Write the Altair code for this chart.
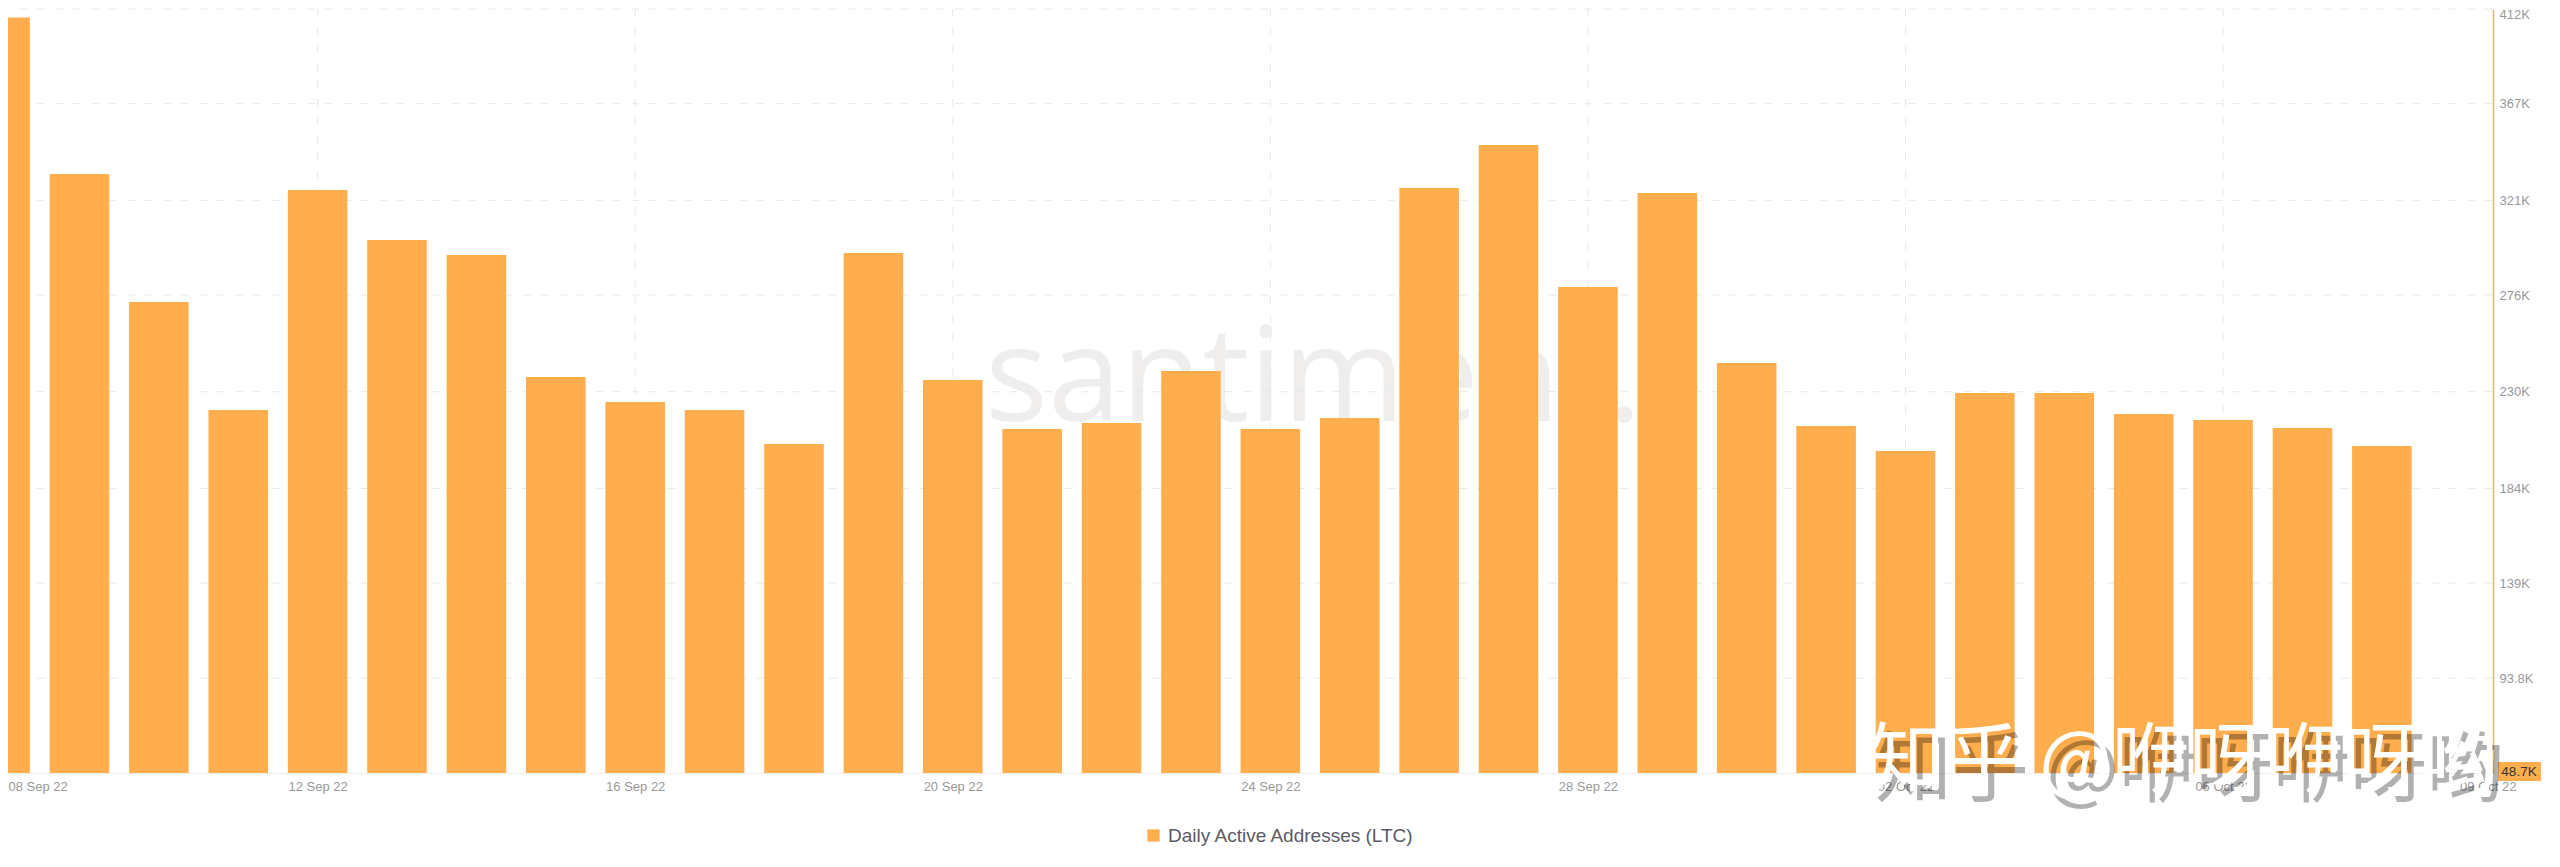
import altair as alt
import pandas as pd

# Daily active addresses in thousands, one bar a day from 08 Sep 22
values = [
    407.9, 333.5, 272.7, 221.3, 325.9, 302.2, 295.0, 237.0, 225.1, 221.3, 205.2,
    296.0, 235.6, 212.3, 215.1, 239.9, 212.3, 217.5, 326.9, 347.3, 279.8, 324.5,
    243.7, 213.7, 201.8, 229.4, 229.4, 219.4, 216.6, 212.8, 204.2,
]
y_ticks = [412, 367, 321, 276, 230, 184, 139, 93.8, 48.7]
grid_days = ["2022-09-12", "2022-09-16", "2022-09-20", "2022-09-24", "2022-09-28",
             "2022-10-02", "2022-10-06"]
series_name = "Daily Active Addresses (LTC)"

ORANGE = "#ffad4d"
GREY = "#999999"
GRID = "#e8e8e8"
W, H = 2485, 764

days = pd.date_range("2022-09-08", periods=len(values), freq="D")
source = pd.DataFrame({
    "start": days - pd.Timedelta(hours=9),
    "end": days + pd.Timedelta(hours=9),
    "value": values,
    "base": y_ticks[-1],
    "series": series_name,
})


def dt(month, date, hours=0, minutes=0):
    return alt.DateTime(year=2022, month=month, date=date, hours=hours, minutes=minutes)


x_scale = alt.Scale(domain=[dt("Sep", 8, 2, 24), dt("Oct", 9, 9, 36)])
y_scale = alt.Scale(domain=[48.7, 412], zero=False)

x_ticks = [dt("Sep", 8, 2, 24), dt("Sep", 12), dt("Sep", 16), dt("Sep", 20), dt("Sep", 24),
           dt("Sep", 28), dt("Oct", 2), dt("Oct", 6), dt("Oct", 9, 8)]

x_axis = alt.Axis(
    values=x_ticks, format="%d %b %y", title=None, grid=False, ticks=False,
    labelFlush=True, labelOverlap=False, labelPadding=7, labelFontSize=13,
    labelColor=GREY, labelFont="Liberation Sans", domainColor="#eeeeee",
)
y_axis = alt.Axis(
    orient="right", values=y_ticks[:-1], labelExpr="datum.value + 'K'", title=None,
    grid=False, ticks=False, labelPadding=6, labelFontSize=13, labelColor=GREY,
    labelFont="Liberation Sans", domainColor="#dcb96e", domainWidth=1.5,
    labelFlush=True, labelFlushOffset=1, labelOverlap=False,
)

# Grid is drawn with rules so it sits over the santiment watermark
grid_x = alt.Chart(pd.DataFrame({"day": pd.to_datetime(grid_days)})).mark_rule(
    color=GRID, strokeDash=[8, 10], strokeWidth=1
).encode(x=alt.X("day:T", scale=x_scale, axis=x_axis))

grid_y = alt.Chart(pd.DataFrame({"tick": y_ticks[:-1]})).mark_rule(
    color=GRID, strokeDash=[8, 10], strokeWidth=1
).encode(y=alt.Y("tick:Q", scale=y_scale, axis=y_axis))

santiment = alt.Chart(pd.DataFrame({"t": [".santiment."]})).mark_text(
    font="Open Sans", fontSize=132, color="#f0eded", align="center", baseline="alphabetic"
).encode(text="t:N", x=alt.value(1288), y=alt.value(412))

bars = alt.Chart(source).mark_bar(clip=True).encode(
    x=alt.X("start:T", scale=x_scale, axis=x_axis),
    x2="end:T",
    y=alt.Y("value:Q", scale=y_scale, stack=None, axis=y_axis),
    y2="base:Q",
    color=alt.Color(
        "series:N",
        scale=alt.Scale(range=[ORANGE]),
        legend=alt.Legend(
            orient="none", legendX=1136, legendY=817, title=None, symbolType="square",
            symbolSize=150, symbolStrokeWidth=0, labelFontSize=19, labelColor="#5a5a66",
            labelFont="Liberation Sans", labelOffset=5, labelLimit=400,
        ),
    ),
)

# Last value badge on the right axis
badge = alt.Chart(pd.DataFrame({"x": [1]})).mark_rect(color=ORANGE).encode(
    x=alt.value(W + 5), x2=alt.value(W + 48), y=alt.value(753), y2=alt.value(772)
)
badge_text = alt.Chart(pd.DataFrame({"t": ["48.7K"]})).mark_text(
    font="Liberation Sans", fontSize=13.5, color="#333333", align="center"
).encode(text="t:N", x=alt.value(W + 26), y=alt.value(763))

zhihu_text = "知乎 @咿呀咿呀哟"
zhihu_df = pd.DataFrame({"t": [zhihu_text]})
zhihu_shadow = alt.Chart(zhihu_df).mark_text(
    font="Noto Sans CJK SC", fontSize=77, color="#000000", opacity=0.3, align="right", baseline="alphabetic"
).encode(text="t:N", x=alt.value(W + 11), y=alt.value(787))
zhihu = alt.Chart(zhihu_df).mark_text(
    font="Noto Sans CJK SC", fontSize=77, color="#ffffff", align="right", baseline="alphabetic"
).encode(text="t:N", x=alt.value(W + 4), y=alt.value(778))

chart = alt.layer(
    santiment, grid_x, grid_y, bars, badge, badge_text, zhihu_shadow, zhihu
).resolve_scale(color="independent").properties(
    width=W,
    height=H,
    autosize=alt.AutoSizeParams(type="none"),
    padding={"left": 0, "top": 1, "right": 55, "bottom": 80},
).configure_view(stroke=None)

chart.save("out.html", embed_options={"renderer": "svg", "actions": False})
